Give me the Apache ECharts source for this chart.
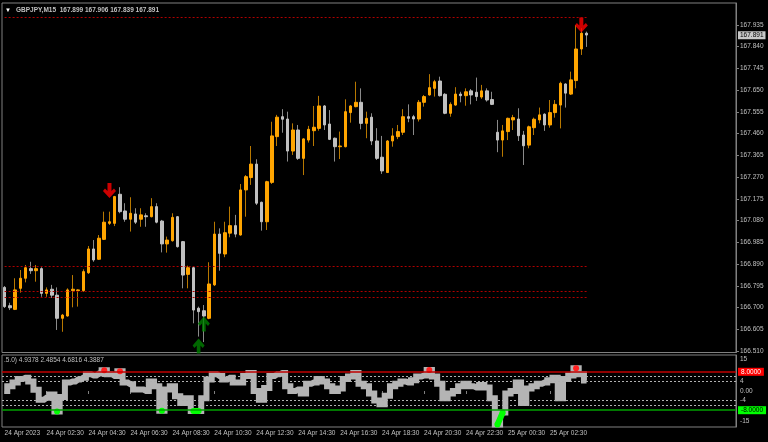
<!DOCTYPE html>
<html><head><meta charset="utf-8">
<script src="https://cdn.jsdelivr.net/npm/echarts@6/dist/echarts.min.js"></script>
<style>html,body{margin:0;padding:0;background:#000;}#c{width:768px;height:442px;}</style>
</head><body><div id="c"></div>
<script>
const symbolName = 'GBPJPY,M15';
const opens = [166.788,166.708,166.692,166.784,166.828,166.870,166.861,166.870,166.762,166.780,
166.754,166.653,166.663,166.774,166.774,166.774,166.852,166.956,166.911,166.998,
167.068,167.068,167.195,167.122,167.086,167.109,167.086,167.101,167.097,167.141,
167.078,166.978,166.992,167.097,166.988,166.845,166.874,166.697,166.686,166.653,
166.799,167.021,166.934,167.025,167.058,167.017,167.214,167.268,167.327,167.160,
167.075,167.247,167.447,167.534,167.524,167.384,167.476,167.352,167.432,167.473,
167.483,167.581,167.502,167.440,167.403,167.403,167.552,167.578,167.597,167.505,
167.532,167.428,167.357,167.290,167.428,167.447,167.466,167.534,167.534,167.524,
167.597,167.629,167.658,167.690,167.632,167.549,167.585,167.633,167.626,167.647,
167.641,167.620,167.647,167.609,167.466,167.432,167.469,167.520,167.524,167.454,
167.410,167.486,167.520,167.545,167.498,167.552,167.585,167.677,167.633,167.692,
167.830,167.899];
const highs = [166.794,166.721,166.828,166.864,166.886,166.900,166.886,166.876,166.788,166.799,
166.788,166.672,166.784,166.842,166.780,166.867,166.969,166.995,167.017,167.119,
167.119,167.188,167.226,167.156,167.182,167.134,167.134,167.112,167.178,167.156,
167.083,167.010,167.112,167.100,166.991,166.883,166.879,166.704,166.711,166.898,
167.075,167.046,167.075,167.141,167.105,167.240,167.279,167.406,167.348,167.163,
167.254,167.512,167.542,167.567,167.556,167.505,167.498,167.440,167.494,167.581,
167.625,167.585,167.563,167.443,167.469,167.610,167.585,167.687,167.658,167.556,
167.549,167.484,167.450,167.432,167.484,167.498,167.567,167.588,167.542,167.607,
167.629,167.720,167.695,167.709,167.637,167.597,167.663,167.643,167.658,167.655,
167.705,167.673,167.658,167.643,167.520,167.498,167.530,167.542,167.571,167.472,
167.495,167.530,167.574,167.549,167.607,167.607,167.687,167.680,167.731,167.935,
167.921,167.906];
const lows = [166.698,166.689,166.689,166.765,166.810,166.847,166.813,166.747,166.747,166.742,
166.602,166.594,166.660,166.701,166.704,166.769,166.847,166.900,166.908,166.995,
167.061,167.056,167.112,167.075,167.032,167.065,167.053,167.053,167.094,167.068,
166.941,166.940,166.988,166.962,166.784,166.784,166.631,166.573,166.549,166.649,
166.794,166.861,166.920,167.007,167.007,167.014,167.097,167.236,167.148,167.036,
167.039,167.240,167.406,167.464,167.338,167.367,167.345,167.279,167.421,167.406,
167.473,167.476,167.432,167.338,167.349,167.400,167.508,167.575,167.479,167.440,
167.410,167.345,167.284,167.288,167.403,167.436,167.454,167.510,167.454,167.513,
167.578,167.626,167.622,167.622,167.545,167.534,167.582,167.597,167.582,167.588,
167.603,167.612,167.600,167.585,167.379,167.359,167.432,167.476,167.428,167.323,
167.396,167.454,167.505,167.472,167.486,167.530,167.483,167.574,167.629,167.658,
167.804,167.839];
const closes = [166.704,166.699,166.777,166.828,166.874,166.861,166.870,166.762,166.777,166.754,
166.653,166.667,166.777,166.780,166.777,166.857,166.956,166.908,167.003,167.073,
167.075,167.185,167.119,167.086,167.112,167.073,167.105,167.097,167.141,167.073,
166.978,166.995,167.094,166.966,166.842,166.874,166.689,166.682,166.663,166.803,
167.021,166.937,167.027,167.058,167.021,167.214,167.272,167.327,167.156,167.075,
167.250,167.450,167.532,167.523,167.384,167.476,167.352,167.437,167.479,167.488,
167.581,167.498,167.435,167.403,167.406,167.556,167.581,167.597,167.505,167.527,
167.428,167.352,167.297,167.428,167.450,167.469,167.534,167.527,167.524,167.597,
167.622,167.661,167.687,167.626,167.549,167.588,167.633,167.626,167.643,167.629,
167.622,167.647,167.607,167.588,167.432,167.472,167.527,167.530,167.451,167.407,
167.490,167.523,167.542,167.498,167.552,167.588,167.680,167.637,167.695,167.830,
167.899,167.891];
const indicator = [0,2,3.5,5,5.5,4,0.5,-3.6,-2.8,-1.5,
-8.5,-2.5,3.5,4,4.8,5.5,7,6.5,7.3,8.6,
7,6.3,8.2,3.5,2.8,0.6,0.6,0,4,2,
-8.2,0.6,2,-2.2,-5,-3,-8.3,-8.3,-3,4.8,
7,6.3,4.8,5.5,3.5,3.5,6.3,7.5,0,-3.6,
1.3,6.3,7,7.5,2,0,0.6,-1,3,3.5,
5,4,2,0,1,5,6,7.5,3,2,
-1,-4,-5.5,-2,2,3,4,3.5,4.5,6,
6.5,8.8,6,3,-3,-1,0,2,3,2,
1.5,2.5,1.5,-3,-14,-9,-1,0,3.5,-5,
1,2,3,3.5,4.5,5.5,-3,5,6.5,9.5,
7,4.4];
const indicatorHeader = '.5.0) 4.9378 2.4854 4.6816 4.3887';
const timeTickLabels = ['24 Apr 2023','24 Apr 02:30','24 Apr 04:30','24 Apr 06:30','24 Apr 08:30','24 Apr 10:30','24 Apr 12:30','24 Apr 14:30','24 Apr 16:30','24 Apr 18:30','24 Apr 20:30','24 Apr 22:30','25 Apr 00:30','25 Apr 02:30'];
const priceTicks = [166.510,166.605,166.700,166.795,166.890,166.985,167.080,167.175,167.270,167.365,167.460,167.555,167.650,167.745,167.840,167.935];
const levelLines = [167.970,166.879,166.771,166.745];
const sellArrows = [[20,167.212],[110,167.935]];
const buyArrows = [[37,166.532],[38,166.628]];
const indUpper = 8, indLower = -8;
const indDashed = [6,4,-4,-6];
const indTicks = [15,4,0,-4,-15];

const N = 140; // bars + right shift space
const cats = Array.from({length: N}, (_, i) => String(i));
const last = closes.length - 1;
const ohlc = opens.map((o, i) => [o, closes[i], lows[i], highs[i]]);
const bodies = opens.map((o, i) => [o, closes[i], Math.min(o, closes[i]), Math.max(o, closes[i])]);
const FONT = 'Liberation Sans';
const TXT = '#c0c0c0';
const GRAYL = '#808080';
const showTick = (idx) => idx % 8 === 0 && idx / 8 < timeTickLabels.length;
const arrowDown = 'path://M4.5,0 L8.5,0 L8.5,8 L11,5.5 L13,8 L6.5,15 L0,8 L2,5.5 L4.5,8 Z';
const arrowUp = 'path://M4.5,15 L8.5,15 L8.5,7 L11,9.5 L13,7 L6.5,0 L0,7 L2,9.5 L4.5,7 Z';
const hiSeries = indicator.map(v => v > indUpper ? v : null);
const loSeries = indicator.map(v => v < indLower ? v : null);

const chart = echarts.init(document.getElementById('c'), null, {renderer: 'canvas'});
chart.setOption({
  backgroundColor: '#000',
  animation: false,
  title: [
    {left: 5, top: 1, padding: 0, text: '{t|▼} {s|' + symbolName + '  ' + opens[last].toFixed(3) + ' ' + highs[last].toFixed(3) + ' ' + lows[last].toFixed(3) + ' ' + closes[last].toFixed(3) + '}',
     textStyle: {rich: {t: {color: '#fff', fontSize: 6, fontFamily: FONT}, s: {color: TXT, fontSize: 6.5, fontFamily: FONT}}}},
    {left: 4, top: 357, padding: 0, text: indicatorHeader, textStyle: {color: TXT, fontSize: 6.5, fontFamily: FONT, fontWeight: 'normal'}}
  ],
  grid: [
    {left: 2, right: 32, top: 3, height: 349.5, show: true, borderColor: GRAYL, borderWidth: 1},
    {left: 2, right: 32, top: 355, height: 72, show: true, borderColor: GRAYL, borderWidth: 1}
  ],
  xAxis: [
    {gridIndex: 0, type: 'category', data: cats, boundaryGap: true, axisLine: {show: false}, axisTick: {show: false}, axisLabel: {show: false}, splitLine: {show: false}},
    {gridIndex: 1, type: 'category', data: cats, boundaryGap: true, axisLine: {show: false},
     axisTick: {show: true, interval: showTick, alignWithLabel: true, length: 3, lineStyle: {color: GRAYL}},
     axisLabel: {show: true, interval: showTick, align: 'left', margin: 3, color: TXT, fontSize: 6.5, fontFamily: 'Liberation Sans Narrow, ' + FONT,
       formatter: (v, idx) => timeTickLabels[idx / 8] || ''},
     splitLine: {show: false}}
  ],
  yAxis: [
    {gridIndex: 0, type: 'value', position: 'right', min: 166.5035, max: 168.031, splitLine: {show: false},
     axisLine: {show: true, lineStyle: {color: GRAYL}},
     axisTick: {show: true, customValues: priceTicks, length: 3, lineStyle: {color: GRAYL}},
     axisLabel: {show: true, customValues: priceTicks, formatter: v => v.toFixed(3), color: TXT, fontSize: 6.5, fontFamily: FONT, margin: 4}},
    {gridIndex: 1, type: 'value', position: 'right', min: -15, max: 15, splitLine: {show: false},
     axisLine: {show: true, lineStyle: {color: GRAYL}},
     axisTick: {show: false},
     axisLabel: {show: true, customValues: indTicks, color: TXT, fontSize: 6.5, fontFamily: FONT, margin: 4,
       formatter: v => v === 15 ? '{a|15}' : v === -15 ? '{b|-15}' : v === 0 ? '0.00' : String(v),
       rich: {a: {padding: [8, 0, 0, 0], color: TXT, fontSize: 6.5, fontFamily: FONT}, b: {padding: [0, 0, 12, 0], color: TXT, fontSize: 6.5, fontFamily: FONT}}}}
  ],
  series: [
    {type: 'line', xAxisIndex: 0, yAxisIndex: 0, data: [], z: 1, silent: true,
     markLine: {symbol: ['none', 'none'], silent: true, animation: false, label: {show: false},
       lineStyle: {color: '#b00000', width: 1, type: [2, 2]},
       data: levelLines.map(v => [{coord: [cats[0], v]}, {coord: [cats[last], v]}])}},
    {type: 'candlestick', xAxisIndex: 0, yAxisIndex: 0, data: ohlc, barWidth: 1, z: 2, silent: true,
     itemStyle: {color: '#b87800', color0: '#8a8a8a', borderColor: '#b87800', borderColor0: '#8a8a8a', borderWidth: 1}},
    {type: 'candlestick', xAxisIndex: 0, yAxisIndex: 0, data: bodies, barWidth: 3, z: 3, silent: true,
     itemStyle: {color: '#ffa500', color0: '#c0c0c0', borderColor: '#ffa500', borderColor0: '#c0c0c0', borderWidth: 1},
     markLine: {symbol: ['none', 'none'], silent: true, animation: false,
       data: [{yAxis: closes[last], lineStyle: {color: 'rgba(0,0,0,0)', width: 0},
         label: {show: true, position: 'end', distance: 2, formatter: closes[last].toFixed(3), backgroundColor: '#c8c8c8', color: '#000', padding: [1, 2, 0, 2], fontSize: 6.5, fontFamily: FONT}}]}},
    {type: 'scatter', xAxisIndex: 0, yAxisIndex: 0, data: sellArrows, symbol: arrowDown, symbolSize: [13, 15], z: 4, silent: true, itemStyle: {color: '#ff0000'}},
    {type: 'scatter', xAxisIndex: 0, yAxisIndex: 0, data: buyArrows, symbol: arrowUp, symbolSize: [12, 15], z: 4, silent: true, itemStyle: {color: '#008000'}},
    {type: 'line', xAxisIndex: 1, yAxisIndex: 1, data: [], z: 1, silent: true,
     markLine: {symbol: ['none', 'none'], silent: true, animation: false,
       data: [
         {yAxis: indUpper, lineStyle: {color: '#c00000', width: 1.5, type: 'solid'},
          label: {show: true, position: 'end', distance: 2, formatter: indUpper.toFixed(4), backgroundColor: '#ff0000', color: '#fff', padding: [1, 3, 0, 3], fontSize: 6.5, fontFamily: FONT}},
         {yAxis: indLower, lineStyle: {color: '#00a000', width: 1.5, type: 'solid'},
          label: {show: true, position: 'end', distance: 2, formatter: indLower.toFixed(4), backgroundColor: '#00ff00', color: '#000', padding: [1, 3, 0, 3], fontSize: 6.5, fontFamily: FONT}}
       ].concat(indDashed.map(v => ({yAxis: v, lineStyle: {color: '#b0b0b0', width: 1, type: [2, 2]}, label: {show: false}})))}},
    {type: 'line', xAxisIndex: 1, yAxisIndex: 1, data: indicator, step: 'middle', showSymbol: false, z: 2, silent: true,
     lineStyle: {color: '#b4b4b4', width: 6, cap: 'butt', join: 'miter'}},
    {type: 'line', xAxisIndex: 1, yAxisIndex: 1, data: hiSeries, connectNulls: false, showSymbol: true, showAllSymbol: true, symbol: 'circle', symbolSize: 6, z: 3, silent: true,
     itemStyle: {color: '#ff2020'}, lineStyle: {color: '#ff2020', width: 6}},
    {type: 'line', xAxisIndex: 1, yAxisIndex: 1, data: loSeries, connectNulls: false, showSymbol: true, showAllSymbol: true, symbol: 'circle', symbolSize: 6, z: 3, silent: true,
     itemStyle: {color: '#00ff00'}, lineStyle: {color: '#00ff00', width: 6}}
  ]
});
</script>
</body></html>
